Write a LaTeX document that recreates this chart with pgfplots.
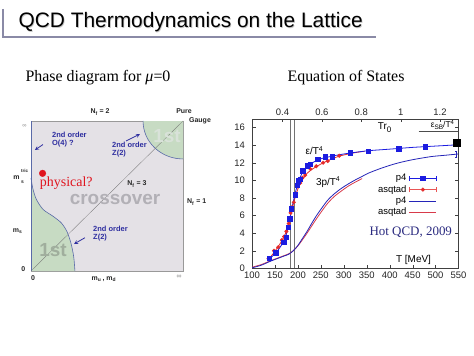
\documentclass[border=0pt]{standalone}
\usepackage{amsmath}
\usepackage{fontspec}
\setmainfont{Liberation Sans}
\newfontfamily\serif{Liberation Serif}
\usepackage{pgfplots}
\pgfplotsset{compat=1.18}
\definecolor{titleline}{HTML}{8A8AA6}
\definecolor{phasebg}{HTML}{E4E1E6}
\definecolor{phgreen}{HTML}{C7DBC3}
\definecolor{phedge}{HTML}{5A6AA8}
\definecolor{annblue}{HTML}{2E2EA0}
\definecolor{crossgray}{HTML}{B2B0B6}
\definecolor{firstbot}{HTML}{A0AE9D}
\definecolor{firsttop}{HTML}{D9E2D9}
\definecolor{physred}{HTML}{E0141E}
\definecolor{epsblue}{HTML}{1C1CE0}
\definecolor{epsred}{HTML}{E42A2A}
\definecolor{pblue}{HTML}{2424B8}
\definecolor{pred}{HTML}{D83A4A}
\definecolor{hotqcd}{HTML}{2B2B80}
\newcommand{\fs}[1]{\fontsize{#1}{#1}\selectfont}
\begin{document}
\begin{tikzpicture}[x=1bp,y=1bp]
\path[fill=white] (0,0) rectangle (474,355);
\begin{scope}[yshift=355bp,yscale=-1]
  \draw[titleline, line width=1.6pt] (3,9) -- (3,37) -- (376,37);
  \node[anchor=west, text=black!22] at (15.8,22.8) {\fs{21}QCD Thermodynamics on the Lattice};
  \node[anchor=west] at (15,22) {\fs{21}QCD Thermodynamics on the Lattice};
  \node at (98,78) {\serif\fs{16}Phase diagram for \itshape μ\upshape =0};
  \node at (346,78) {\serif\fs{16}Equation of States};
  \begin{scope}[font=\bfseries, text=black!85]
  \node[inner sep=0pt] at (16.5,178) {\fs{7}m};
  \node[inner sep=0pt, anchor=west] at (21,171) {\fs{4.5}tric};
  \node[inner sep=0pt, anchor=west] at (21,182.5) {\fs{5}s};
  \end{scope}
\end{scope}

% ---------------- phase diagram ----------------
\begin{axis}[at={(31bp,84bp)}, anchor=south west, scale only axis,
  width=152bp, height=150bp, xmin=0, xmax=1, ymin=0, ymax=1,
  xtick=\empty, ytick=\empty, clip=false,
  axis line style={draw=black!40, line width=0.5pt},
  axis background/.style={fill=phasebg}]
\addplot[fill=phgreen, draw=none] coordinates {(0.737,1.000)(0.7393,0.967)(0.746,0.9345)(0.757,0.903)(0.772,0.8735)(0.7913,0.846)(0.814,0.821)(0.840,0.7993)(0.8685,0.781)(0.8994,0.7663)(0.932,0.7556)(0.9657,0.7492)(1,0.747)(1,1)} -- cycle;
\addplot[draw=phedge, line width=0.6pt, smooth] coordinates {(0.737,1.000)(0.7393,0.967)(0.746,0.9345)(0.757,0.903)(0.772,0.8735)(0.7913,0.846)(0.814,0.821)(0.840,0.7993)(0.8685,0.781)(0.8994,0.7663)(0.932,0.7556)(0.9657,0.7492)(1,0.747)};
\addplot[fill=phgreen, draw=none] coordinates {(0,0.62)(0.012,0.55)(0.035,0.478)(0.08,0.41)(0.145,0.365)(0.2,0.32)(0.237,0.262)(0.263,0.185)(0.281,0.095)(0.289,0)(0,0)} -- cycle;
\addplot[draw=phedge, line width=0.6pt, smooth] coordinates {(0,0.62)(0.012,0.55)(0.035,0.478)(0.08,0.41)(0.145,0.365)(0.2,0.32)(0.237,0.262)(0.263,0.185)(0.281,0.095)(0.289,0)};
\addplot[draw=phedge, line width=0.9pt] coordinates {(0,0)(0,1)};
\addplot[draw=black!55, line width=0.3pt] coordinates {(0,0)(1,1)};
\node[text=crossgray, font=\bfseries\fs{19}] at (axis cs:0.553,0.48) {crossover};
\node[text=firstbot, font=\bfseries\fs{19}] at (axis cs:0.145,0.14) {1st};
\node[text=firsttop, font=\bfseries\fs{19}] at (axis cs:0.895,0.9) {1st};
\addplot[only marks, mark=*, mark size=3.3bp, physred] coordinates {(0.076,0.651)};
\node[text=physred, font=\serif\fs{14}] at (axis cs:0.232,0.585) {physical?};
\begin{scope}[font=\bfseries\fs{7}, text=black!85]
\node at (axis cs:0.454,1.06) {N\textsubscript{f} = 2};
\node at (axis cs:1.007,1.067) {Pure};
\node at (axis cs:1.112,1.0) {Gauge};
\node at (axis cs:0.697,0.58) {N\textsubscript{f} = 3};
\node at (axis cs:1.09,0.46) {N\textsubscript{f} = 1};
\node[anchor=east, inner sep=0pt] at (axis cs:-0.055,0.267) {$\text{m}_{\text{s}}$};
\node[anchor=east] at (axis cs:-0.015,0.013) {0};
\node at (axis cs:0.013,-0.05) {0};
\node at (axis cs:0.48,-0.053) {$\text{m}_{\text{u}}$\,, $\text{m}_{\text{d}}$};
\node[text=black!45, font=\fs{7}] at (axis cs:0.975,-0.04) {∞};
\node[text=black!45, font=\fs{6}, anchor=east] at (axis cs:-0.005,0.967) {∞};
\end{scope}
\begin{scope}[font=\bfseries\fs{7.5}, text=annblue]
\node[anchor=north west, align=left, inner sep=0pt] at (axis cs:0.138,0.925) {2nd order\\O(4) ?};
\node[anchor=north west, align=left, inner sep=0pt] at (axis cs:0.533,0.858) {2nd order\\Z(2)};
\node[anchor=north west, align=left, inner sep=0pt] at (axis cs:0.408,0.298) {2nd order\\Z(2)};
\end{scope}
\draw[annblue, line width=0.8pt, -stealth] (axis cs:0.079,0.843) -- (axis cs:0.026,0.807);
\draw[annblue, line width=0.8pt, -stealth] (axis cs:0.625,0.867) -- (axis cs:0.717,0.913);
\draw[annblue, line width=0.8pt, -stealth] (axis cs:0.355,0.222) -- (axis cs:0.283,0.18);
\end{axis}

% ---------------- equation of state ----------------
\begin{axis}[at={(252bp,86.7bp)}, anchor=south west, scale only axis,
  width=206.5bp, height=149.5bp, xmin=100, xmax=550, ymin=0, ymax=17,
  xtick={100,150,...,550}, ytick={0,2,...,16},
  tick align=inside, xtick pos=bottom, ytick pos=both, yticklabel pos=left,
  major tick length=3.5bp,
  axis line style={draw=black!75, line width=0.5pt}, tick style={black!75},
  tick label style={font=\fs{9.5}, text=black!85},
  yticklabel style={xshift=-3.5bp},
  /pgf/number format/assume math mode=true,
  clip marker paths=false,
  legend plot pos=right,
  legend cell align=right,
  legend style={at={(axis cs:502,10.95)}, anchor=north east, draw=none, fill=none,
     font=\fs{9.5}, row sep=-0.8pt, inner sep=0pt}]
\addplot[black!55, line width=0.5pt, forget plot] coordinates {(184,0)(184,17)};
\addplot[black!55, line width=0.5pt, forget plot] coordinates {(193,0)(193,17)};
\addplot[black!70, line width=0.5pt, forget plot] coordinates {(463,15.6)(550,15.6)};
% pressure
\addplot[pred, line width=0.8pt, smooth, forget plot] coordinates {(100,0.12)(120,0.42)(140,0.85)(160,1.25)(180,1.65)(190,2.0)(200,2.55)(210,3.25)(220,4.0)(230,4.8)(240,5.6)(250,6.35)(265,7.4)(280,8.2)(295,8.8)(310,9.35)(325,9.8)(340,10.2)};
\addplot[pblue, line width=0.8pt, smooth, forget plot] coordinates {(100,0.05)(120,0.35)(140,0.8)(160,1.2)(170,1.4)(180,1.6)(190,2.0)(200,2.6)(210,3.4)(220,4.2)(230,5.1)(240,5.95)(250,6.7)(265,7.75)(280,8.5)(295,9.1)(310,9.6)(325,10.05)(340,10.45)(355,10.85)(380,11.35)(400,11.7)(420,12.0)(450,12.35)(490,12.7)(520,12.85)(550,13.0)};
\addplot[pblue, mark=none, forget plot, error bars/.cd, y dir=both, y explicit, error mark options={rotate=90, mark size=1.2bp, pblue}] coordinates {(545,12.95) +- (0,0.35)};
% energy density lines
\addplot[epsred, line width=0.8pt, smooth, forget plot] coordinates {(136,1.0)(148,1.8)(160,2.7)(170,3.6)(178,4.7)(184,6.0)(190,7.3)(196,8.4)(202,9.3)(210,10.1)(220,10.8)(235,11.4)(250,11.85)(270,12.35)(290,12.75)(310,13.0)(330,13.2)(345,13.3)};
\addplot[epsblue, line width=0.8pt, smooth, forget plot] coordinates {(135,1.0)(145,1.4)(155,1.95)(165,2.7)(172,3.4)(178,4.5)(183,5.8)(188,7.1)(193,8.3)(198,9.3)(203,10.1)(210,10.9)(220,11.6)(235,12.1)(250,12.45)(270,12.7)(300,13.0)(350,13.35)(400,13.55)(450,13.75)(500,13.9)(550,14.05)};
% data points
\addplot[only marks, mark=*, mark size=1.8bp, epsred, forget plot] coordinates {(136,1.1)(148,2.0)(157,2.4)(165,3.2)(170,3.6)(175,4.2)(180,5.1)(184,6.3)(188,7.0)(191,7.5)(196,8.5)(200,9.3)(205,9.7)(210,10.3)(216,10.6)(227,11.3)(240,11.6)(255,12.0)(265,12.2)(290,12.8)};
\addplot[only marks, mark=square*, mark size=2.2bp, epsblue, forget plot] coordinates {(137.8,1.13)(152,1.76)(169,3.0)(174,3.57)(178.5,4.7)(182,5.64)(186,6.77)(194.5,8.35)(198,9.48)(201,9.97)(205.5,10.15)(210.5,11.1)(220,11.66)(227,11.85)(243,12.4)(260,12.67)(274.6,12.67)(314.6,13.16)(353,13.35)(420,13.6)(478,13.84)};
\addplot[only marks, mark=square*, mark size=3.4bp, black, forget plot] coordinates {(546,14.3)};
% labels
\node at (axis cs:236,13.4) {\fs{10}ε/T\textsuperscript{4}};
\node at (axis cs:266,9.8) {\fs{10}3p/T\textsuperscript{4}};
\node at (axis cs:389,16.0) {\fs{10}Tr\raisebox{-0.35em}{\fs{8}0}};
\node[anchor=east] at (axis cs:549,16.3) {\fs{8.5}ε\raisebox{-0.3em}{\fs{6.5}SB}/T\textsuperscript{4}};
\node at (axis cs:452,0.95) {\fs{10}T [MeV]};
\node[text=hotqcd] at (axis cs:446,4.1) {\serif\fs{13}Hot QCD, 2009};
% legend
\addlegendimage{legend image code/.code={
  \draw[epsblue, line width=0.6pt] (0bp,0bp) -- (27bp,0bp);
  \draw[epsblue, line width=0.6pt] (0bp,-2.5bp) -- (0bp,2.5bp) (27bp,-2.5bp) -- (27bp,2.5bp);
  \draw[epsblue, mark=square*, mark size=2.2bp] plot coordinates {(14bp,0bp)};}}
\addlegendentry{p4}
\addlegendimage{legend image code/.code={
  \draw[epsred!80, line width=0.6pt] (0bp,0bp) -- (27bp,0bp);
  \draw[epsred!80, line width=0.6pt] (0bp,-2.5bp) -- (0bp,2.5bp) (27bp,-2.5bp) -- (27bp,2.5bp);
  \draw[epsred, mark=*, mark size=1.8bp] plot coordinates {(14bp,0bp)};}}
\addlegendentry{asqtad}
\addlegendimage{legend image code/.code={
  \draw[pblue, line width=0.8pt] (0bp,0bp) -- (27bp,0bp);}}
\addlegendentry{p4}
\addlegendimage{legend image code/.code={
  \draw[pred, line width=0.8pt] (0bp,0bp) -- (27bp,0bp);}}
\addlegendentry{asqtad}
\end{axis}
\begin{axis}[at={(252bp,86.7bp)}, anchor=south west, scale only axis,
  width=206.5bp, height=149.5bp, xmin=0.245, xmax=1.294, ymin=0, ymax=1,
  axis x line*=top, axis y line=none,
  xtick={0.4,0.6,0.8,1,1.2}, tick align=inside, major tick length=3.5bp,
  axis line style={draw=black!75, line width=0.5pt}, tick style={black!75},
  tick label style={font=\fs{9.5}, text=black!85},
  /pgf/number format/assume math mode=true]
\addplot[draw=none] coordinates {(0.5,0.5)};
\end{axis}
\end{tikzpicture}
\end{document}
